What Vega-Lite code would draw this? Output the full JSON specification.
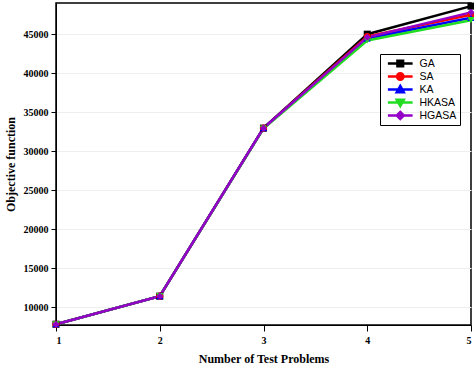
{
  "$schema": "https://vega.github.io/schema/vega-lite/v6.json",
  "width": 415,
  "height": 322,
  "autosize": {"type": "none"},
  "padding": {"left": 56, "top": 3, "right": 3, "bottom": 41},
  "background": "white",
  "config": {
    "view": {"stroke": "black", "strokeWidth": 1.5},
    "axis": {
      "labelFont": "Liberation Serif",
      "labelFontWeight": "bold",
      "labelFontSize": 10,
      "labelColor": "black",
      "titleFont": "Liberation Serif",
      "titleFontWeight": "bold",
      "titleFontSize": 12,
      "titleColor": "black",
      "domainColor": "black",
      "tickColor": "black",
      "gridColor": "#eeeeee",
      "gridWidth": 1
    }
  },
  "data": {
    "values": [
      {"problem": 1, "algorithm": "GA", "value": 7800},
      {"problem": 2, "algorithm": "GA", "value": 11400},
      {"problem": 3, "algorithm": "GA", "value": 32950},
      {"problem": 4, "algorithm": "GA", "value": 45000},
      {"problem": 5, "algorithm": "GA", "value": 48600},
      {"problem": 1, "algorithm": "SA", "value": 7800},
      {"problem": 2, "algorithm": "SA", "value": 11400},
      {"problem": 3, "algorithm": "SA", "value": 32950},
      {"problem": 4, "algorithm": "SA", "value": 44700},
      {"problem": 5, "algorithm": "SA", "value": 47500},
      {"problem": 1, "algorithm": "KA", "value": 7800},
      {"problem": 2, "algorithm": "KA", "value": 11400},
      {"problem": 3, "algorithm": "KA", "value": 32950},
      {"problem": 4, "algorithm": "KA", "value": 44450},
      {"problem": 5, "algorithm": "KA", "value": 47100},
      {"problem": 1, "algorithm": "HKASA", "value": 7800},
      {"problem": 2, "algorithm": "HKASA", "value": 11400},
      {"problem": 3, "algorithm": "HKASA", "value": 32900},
      {"problem": 4, "algorithm": "HKASA", "value": 44200},
      {"problem": 5, "algorithm": "HKASA", "value": 46800},
      {"problem": 1, "algorithm": "HGASA", "value": 7800},
      {"problem": 2, "algorithm": "HGASA", "value": 11400},
      {"problem": 3, "algorithm": "HGASA", "value": 32950},
      {"problem": 4, "algorithm": "HGASA", "value": 44600},
      {"problem": 5, "algorithm": "HGASA", "value": 47800}
    ]
  },
  "encoding": {
    "x": {
      "field": "problem",
      "type": "quantitative",
      "scale": {"domain": [1, 5], "nice": false},
      "axis": {"values": [1, 2, 3, 4, 5], "format": "d", "grid": false, "title": "Number of Test Problems", "titlePadding": 8, "labelPadding": 4, "tickSize": 6}
    },
    "y": {
      "field": "value",
      "type": "quantitative",
      "scale": {"domain": [7700, 49000], "nice": false, "zero": false},
      "axis": {"values": [10000, 15000, 20000, 25000, 30000, 35000, 40000, 45000], "format": "d", "grid": true, "title": "Objective function", "titlePadding": 6, "tickSize": 5, "labelPadding": 3}
    },
    "color": {
      "field": "algorithm",
      "type": "nominal",
      "scale": {"domain": ["GA", "SA", "KA", "HKASA", "HGASA"], "range": ["#000000", "#ff0000", "#0000ff", "#22dd22", "#9400c8"]},
      "legend": {
        "title": null,
        "orient": "none",
        "legendX": 324,
        "legendY": 51,
        "strokeColor": "black",
        "padding": 3,
        "labelFont": "Liberation Sans",
        "labelFontSize": 10.5,
        "labelColor": "black",
        "rowPadding": 0,
        "clipHeight": 13,
        "symbolSize": 50,
        "symbolOffset": 12,
        "labelOffset": 14,
        "encode": {
          "symbols": {
            "update": {
              "shape": {"signal": "datum.value === 'GA' ? 'M-3.5,0H3.5M-0.8,-0.8H0.8V0.8H-0.8Z' : datum.value === 'SA' ? 'M-3.5,0H3.5M0.9,0A0.9,0.9,0,1,1,-0.9,0A0.9,0.9,0,1,1,0.9,0Z' : datum.value === 'KA' ? 'M-3.5,0H3.5M0,-1L1,0.75H-1Z' : datum.value === 'HKASA' ? 'M-3.5,0H3.5M0,1L1,-0.75H-1Z' : 'M-3.5,0H3.5M0,-1L1,0L0,1L-1,0Z'"},
              "strokeWidth": {"value": 2.5},
              "stroke": {"signal": "scale('color', datum.value)"},
              "fill": {"signal": "scale('color', datum.value)"},
              "opacity": {"value": 1}
            }
          }
        }
      }
    }
  },
  "layer": [
    {"mark": {"type": "line", "strokeWidth": 2.5, "clip": false}},
    {"transform": [{"filter": "datum.algorithm === 'GA'"}], "mark": {"type": "point", "shape": "square", "filled": true, "opacity": 1, "size": 50}},
    {"transform": [{"filter": "datum.algorithm === 'SA'"}], "mark": {"type": "point", "shape": "circle", "filled": true, "opacity": 1, "size": 50}},
    {"transform": [{"filter": "datum.algorithm === 'KA'"}], "mark": {"type": "point", "shape": "triangle-up", "filled": true, "opacity": 1, "size": 50}},
    {"transform": [{"filter": "datum.algorithm === 'HKASA'"}], "mark": {"type": "point", "shape": "triangle-down", "filled": true, "opacity": 1, "size": 50}},
    {"transform": [{"filter": "datum.algorithm === 'HGASA'"}], "mark": {"type": "point", "shape": "diamond", "filled": true, "opacity": 1, "size": 50}}
  ]
}
